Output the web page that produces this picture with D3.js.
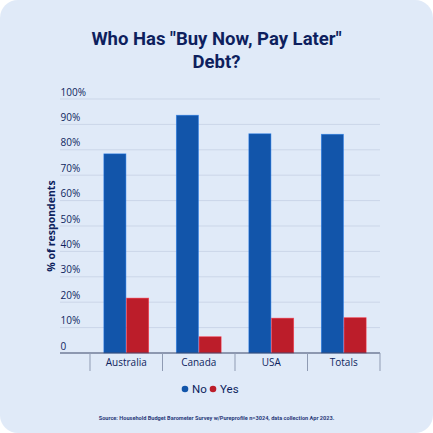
<!DOCTYPE html>
<html>
<head>
<meta charset="utf-8">
<script src="https://cdn.jsdelivr.net/npm/d3@7.9.0/dist/d3.min.js"></script>
<style>
  html, body { margin: 0; padding: 0; background: #ffffff; }
  svg { display: block; }
</style>
</head>
<body>
<div id="chart"></div>
<script>
// chart data
const categories = ['Australia', 'Canada', 'USA', 'Totals'];
const seriesNames = ['No', 'Yes'];
const noValues = [78.4, 93.6, 86.3, 86.1];
const yesValues = [21.6, 6.4, 13.7, 13.9];
const yTicks = [0, 10, 20, 30, 40, 50, 60, 70, 80, 90, 100];

const colors = { No: '#1255aa', Yes: '#bc1d2a' };
const navy = '#0e1f5e';

const width = 433, height = 433;
const margin = { top: 99, right: 53, bottom: 80, left: 90 };

const svg = d3.select('#chart')
  .append('svg')
  .attr('width', width)
  .attr('height', height);

// card background
svg.append('rect')
  .attr('width', width)
  .attr('height', height)
  .attr('rx', 18)
  .attr('fill', '#e0eaf8');

// title
const title = svg.append('text')
  .attr('text-anchor', 'middle')
  .attr('fill', navy)
  .style('font-family', 'Roboto, sans-serif')
  .style('font-weight', 700)
  .style('font-size', '18.5px');
title.append('tspan').attr('x', width / 2).attr('y', 45).text('Who Has "Buy Now, Pay Later"');
title.append('tspan').attr('x', width / 2).attr('y', 68).text('Debt?');

const xScale = d3.scaleBand()
  .domain(categories)
  .range([margin.left, width - margin.right]);

const xInner = d3.scaleBand()
  .domain(seriesNames)
  .range([0, xScale.bandwidth()])
  .paddingOuter(0.61)
  .paddingInner(0.03);

const yScale = d3.scaleLinear()
  .domain([0, 100])
  .range([height - margin.bottom, margin.top]);

// gridlines
svg.append('g')
  .selectAll('line')
  .data(yTicks.filter(d => d > 0))
  .join('line')
  .attr('x1', 60)
  .attr('x2', width - margin.right)
  .attr('y1', d => yScale(d))
  .attr('y2', d => yScale(d))
  .attr('stroke', '#cbd6e8')
  .attr('stroke-width', 1);

// y tick labels, sitting above the gridlines
svg.append('g')
  .selectAll('text')
  .data(yTicks)
  .join('text')
  .attr('x', 60.5)
  .attr('y', d => yScale(d) - 3.5)
  .attr('fill', navy)
  .style('font-family', '"Open Sans", sans-serif')
  .style('font-size', '10px')
  .text(d => d === 0 ? '0' : d + '%');

// y axis title
svg.append('text')
  .attr('transform', `translate(55, ${yScale(50)}) rotate(-90)`)
  .attr('text-anchor', 'middle')
  .attr('fill', navy)
  .style('font-family', '"Open Sans", sans-serif')
  .style('font-weight', 700)
  .style('font-size', '10.5px')
  .text('% of respondents');

// bars
const rows = categories.map((c, i) => ({ category: c, No: noValues[i], Yes: yesValues[i] }));

const groups = svg.append('g')
  .selectAll('g')
  .data(rows)
  .join('g')
  .attr('transform', d => `translate(${xScale(d.category)}, 0)`);

groups.selectAll('rect')
  .data(d => seriesNames.map(s => ({ key: s, value: d[s] })))
  .join('rect')
  .attr('x', d => xInner(d.key))
  .attr('width', xInner.bandwidth())
  .attr('y', d => yScale(d.value))
  .attr('height', d => yScale(0) - yScale(d.value))
  .attr('fill', d => colors[d.key])
  .attr('stroke', d => d3.color(colors[d.key]).brighter(0.9))
  .attr('stroke-opacity', 0.6)
  .attr('stroke-width', 0.8);

// x axis
const xAxis = svg.append('g')
  .attr('transform', `translate(0, ${yScale(0)})`);

xAxis.append('line')
  .attr('x1', 60)
  .attr('x2', width - margin.right)
  .attr('stroke', '#3b4668')
  .attr('stroke-width', 1.2);

xAxis.selectAll('line.tick')
  .data(categories.concat(['end']))
  .join('line')
  .attr('class', 'tick')
  .attr('x1', (d, i) => i < categories.length ? xScale(d) : xScale.range()[1])
  .attr('x2', (d, i) => i < categories.length ? xScale(d) : xScale.range()[1])
  .attr('y1', 0)
  .attr('y2', 18)
  .attr('stroke', '#8f9bb3')
  .attr('stroke-width', 1);

xAxis.selectAll('text')
  .data(categories)
  .join('text')
  .attr('x', d => xScale(d) + xScale.bandwidth() / 2)
  .attr('y', 13)
  .attr('text-anchor', 'middle')
  .attr('fill', navy)
  .style('font-family', '"Open Sans", sans-serif')
  .style('font-size', '10px')
  .text(d => d);

// legend
const legend = svg.append('g')
  .attr('transform', 'translate(185, 389)');
const legendX = { No: 0, Yes: 28 };
seriesNames.forEach(s => {
  legend.append('circle')
    .attr('cx', legendX[s])
    .attr('cy', 0)
    .attr('r', 3.3)
    .attr('fill', colors[s]);
  legend.append('text')
    .attr('x', legendX[s] + 7)
    .attr('y', 4)
    .attr('fill', navy)
    .style('font-family', 'Roboto, sans-serif')
    .style('font-size', '11.5px')
    .text(s);
});

// source note
svg.append('text')
  .attr('x', width / 2)
  .attr('y', 420)
  .attr('text-anchor', 'middle')
  .attr('fill', '#2a3a7a')
  .style('font-family', 'Roboto, sans-serif')
  .style('font-weight', 700)
  .style('font-size', '5.6px')
  .text('Source: Household Budget Barometer Survey w/Pureprofile n=3024, data collection Apr 2023.');
</script>
</body>
</html>
